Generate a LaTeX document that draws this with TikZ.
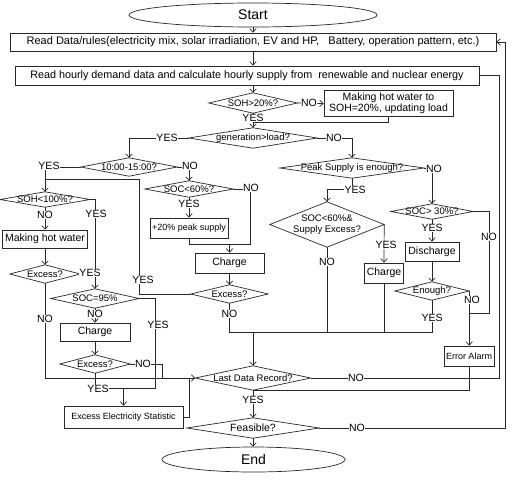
\documentclass[tikz,border=0pt]{standalone}
\usepackage{fontspec}
\setmainfont{Liberation Sans}
\usetikzlibrary{arrows.meta,shapes.geometric,calc}
\definecolor{lc}{RGB}{40,40,40}
\begin{document}
\begin{tikzpicture}[x=1pt,y=-1pt,
  lnk/.style={draw=lc, line width=0.7pt},
  arr/.style={lnk, -{Straight Barb[length=3.5pt,width=6.5pt]}},
  box/.style={draw=lc, line width=0.7pt, rectangle, inner sep=0pt, font=\fontsize{10.5}{12}\selectfont, align=center},
  dia/.style={rectangle, inner sep=0pt, font=\fontsize{9.5}{11}\selectfont, align=center},
  term/.style={draw=lc, line width=0.7pt, ellipse, inner sep=0pt, font=\fontsize{14}{16}\selectfont},
  lbl/.style={fill=white, inner sep=0.6pt, font=\fontsize{10.5}{12}\selectfont}]
\useasboundingbox (0,0) rectangle (521,488);
% nodes
\node[term, minimum width=248pt, minimum height=24pt] (start) at (253,15) {Start};
\node[box, minimum width=486pt, minimum height=18pt, font=\fontsize{11}{12}\selectfont] (rd) at (253,42) {Read Data/rules(electricity mix, solar irradiation, EV and HP,\ \ \ Battery, operation pattern, etc.)};
\node[box, minimum width=464pt, minimum height=19pt, font=\fontsize{10.8}{12}\selectfont] (rh) at (247,75.5) {Read hourly demand data and calculate hourly supply from\ \ renewable and nuclear energy};
\node[dia, minimum width=88pt, minimum height=20pt] (soh20) at (253,103) {SOH>20\%?};
\node[box, minimum width=129pt, minimum height=26pt, font=\fontsize{10.5}{11}\selectfont] (hw20) at (388.5,103.5) {Making hot water to\\SOH=20\%, updating load};
\node[dia, minimum width=128pt, minimum height=20pt] (gen) at (253,138) {generation>load?};
\node[dia, minimum width=96pt, minimum height=18pt] (ten) at (129,167) {10:00-15:00?};
\node[dia, minimum width=144pt, minimum height=20pt] (peak) at (352,168) {Peak Supply is enough?};
\node[dia, minimum width=88pt, minimum height=16pt] (soc60) at (189,189) {SOC<60\%?};
\node[dia, minimum width=90pt, minimum height=15pt] (soh100) at (45,199.5) {SOH<100\%?};
\node[dia, minimum width=114pt, minimum height=45pt] (socex) at (327,224.5) {SOC<60\%\&\\Supply Excess?};
\node[dia, minimum width=82pt, minimum height=15pt] (soc30) at (432,211.5) {SOC> 30\%?};
\node[box, minimum width=78pt, minimum height=20pt, font=\fontsize{9}{11}\selectfont] (ps) at (189,228) {+20\% peak supply};
\node[box, minimum width=85pt, minimum height=18pt] (mhw) at (45,239) {Making hot water};
\node[box, minimum width=54pt, minimum height=19pt] (dis) at (432,251.5) {Discharge};
\node[box, minimum width=69pt, minimum height=20pt] (chm) at (229.5,263) {Charge};
\node[box, minimum width=39pt, minimum height=20pt] (chr) at (384,273) {Charge};
\node[dia, minimum width=70pt, minimum height=18pt] (exl) at (45,274) {Excess?};
\node[dia, minimum width=74pt, minimum height=18pt] (eno) at (432,291) {Enough?};
\node[dia, minimum width=77pt, minimum height=18pt] (exm) at (229.5,294) {Excess?};
\node[dia, minimum width=88pt, minimum height=19pt] (soc95) at (95,298.5) {SOC=95\%};
\node[box, minimum width=70pt, minimum height=18pt] (chl) at (95,332) {Charge};
\node[box, minimum width=50pt, minimum height=20pt, font=\fontsize{9}{11}\selectfont] (err) at (469,356) {Error Alarm};
\node[dia, minimum width=70pt, minimum height=18pt] (exl2) at (95,364) {Excess?};
\node[dia, minimum width=115pt, minimum height=24pt] (ldr) at (253,378) {Last Data Record?};
\node[box, minimum width=119pt, minimum height=22pt, font=\fontsize{9}{11}\selectfont] (ees) at (123.5,417) {Excess Electricity Statistic};
\node[dia, minimum width=132pt, minimum height=20pt, font=\fontsize{10.5}{12}\selectfont] (fea) at (253,428) {Feasible?};
\node[term, minimum width=183pt, minimum height=25pt] (end) at (253.5,459.5) {End};
% diamonds
\foreach \n in {soh20,gen,ten,peak,soc60,soh100,socex,soc30,exl,eno,exm,soc95,exl2,ldr,fea}
  \draw[lnk] (\n.west) -- (\n.north) -- (\n.east) -- (\n.south) -- cycle;
% junctions
\coordinate (j1) at ($(gen.north)+(0,-5)$);
\coordinate (j2) at ($(chm.north)+(0,-8)$);
\coordinate (j3) at ($(soh100.north)+(0,-12)$);
\coordinate (m) at ($(ldr.north)+(0,-33)$);
\coordinate (j4) at ($(socex.north)+(0,-12)$);
\coordinate (j5) at ($(err.north)+(0,-32)$);
\coordinate (j8) at ($(ees.north)+(0,-17)$);
% connectors
\draw[arr] (start.south) -- (start.south|-rd.north);
\draw[arr] (start.south|-rd.south) -- (start.south|-rh.north);
\draw[arr] (start.south|-rh.south) -- (soh20.north);
\draw[arr] (soh20.east) -- (hw20.west);
\draw[arr] (soh20.south) -- (gen.north);
\draw[lnk] (hw20.south) |- (j1);
\draw[arr] (gen.west) -| (ten.north);
\draw[arr] (gen.east) -| (peak.north);
\draw[arr] (ten.west) -| (soh100.north);
\draw[arr] (ten.east) -| (soc60.north);
\draw[arr] (soc60.south) -- (ps.north);
\draw[lnk] (soc60.east) -- ++(17,0) |- (j2);
\draw[lnk] (ps.south) |- (j2);
\draw[arr] (j2) -- (chm.north);
\draw[arr] (chm) -- (exm);
\draw[lnk] (exm.west) -- ++(-51,0) |- (j3);
\draw[lnk] (exm.south) |- (m);
\draw[lnk] (peak.south) |- (j4);
\draw[arr] (j4) -- (socex.north);
\draw[arr] (peak.east) -| (soc30.north);
\draw[arr] (socex.east) -- (chr.north);
\draw[lnk] (socex.south) |- (m);
\draw[lnk] (chr.south) |- (m);
\draw[arr] (soc30.south) -- (dis.north);
\draw[arr] (dis) -- (eno);
\draw[lnk] (eno.south) |- (m);
\draw[arr] (eno.east) -- (eno.east|-err.north);
\draw[lnk] (soc30.east) -- ++(16,0) |- (j5);
\draw[lnk] (err.south) |- (ldr.south);
\draw[arr] (m) -- (ldr.north);
\draw[lnk] (ldr.east) -- ++(188.5,0) |- (rh.east);
\draw[arr] (ldr.south) -- (fea.north);
\draw[arr] (fea.east) -- ++(186,0) |- (rd.east);
\draw[arr] (fea.south) -- (fea.south|-end.north);
\draw[arr] (soh100.south) -- (mhw.north);
\draw[arr] (soh100.east) -| (soc95.north);
\draw[arr] (mhw) -- (exl);
\draw[lnk] (exl.east) -- (exl.east-|soc95.north);
\draw[arr] (exl.south) |- (ldr.west);
\draw[arr] (soc95.south) -- (chl.north);
\draw[arr] (chl) -- (exl2);
\draw[lnk] (exl2.east) -- ++(32,0) |- (ldr.west);
\draw[lnk] (exl2.south) |- (j8);
\draw[arr] (j8) -- (ees.north);
\draw[lnk] (soc95.east) -- ++(16,0) |- (j8);
\draw[lnk] (ees.east) -- ++(6,0) |- (ldr.west);
% labels
\node[lbl] (l1) at (309,103) {NO};
\node[lbl] (l2) at (253,118) {YES};
\node[lbl] (l3) at (167,138) {YES};
\node[lbl] (l4) at (334,138) {NO};
\node[lbl] (l5) at (49,166) {YES};
\node[lbl] (l6) at (190,166) {NO};
\node[lbl] (l7) at (189,204) {YES};
\node[lbl] (l8) at (251,188) {NO};
\node[lbl] (l9) at (143,280) {YES};
\node[lbl] (l10) at (229.5,314) {NO};
\node[lbl] (l11) at (355,190) {YES};
\node[lbl] (l12) at (434,169) {NO};
\node[lbl] (l13) at (386,245) {YES};
\node[lbl] (l14) at (327,262) {NO};
\node[lbl] (l15) at (432,228) {YES};
\node[lbl] (l16) at (432,318) {YES};
\node[lbl] (l17) at (472,300) {NO};
\node[lbl] (l18) at (489,237) {NO};
\node[lbl] (l19) at (356,378) {NO};
\node[lbl] (l20) at (253,400) {YES};
\node[lbl] (l21) at (357,428) {NO};
\node[lbl] (l22) at (45,215) {NO};
\node[lbl] (l23) at (96,214) {YES};
\node[lbl] (l24) at (90,273) {YES};
\node[lbl] (l25) at (45,319) {NO};
\node[lbl] (l26) at (95,314) {NO};
\node[lbl] (l27) at (143,364) {NO};
\node[lbl] (l28) at (98,389) {YES};
\node[lbl] (l29) at (158,325) {YES};
\end{tikzpicture}
\end{document}
